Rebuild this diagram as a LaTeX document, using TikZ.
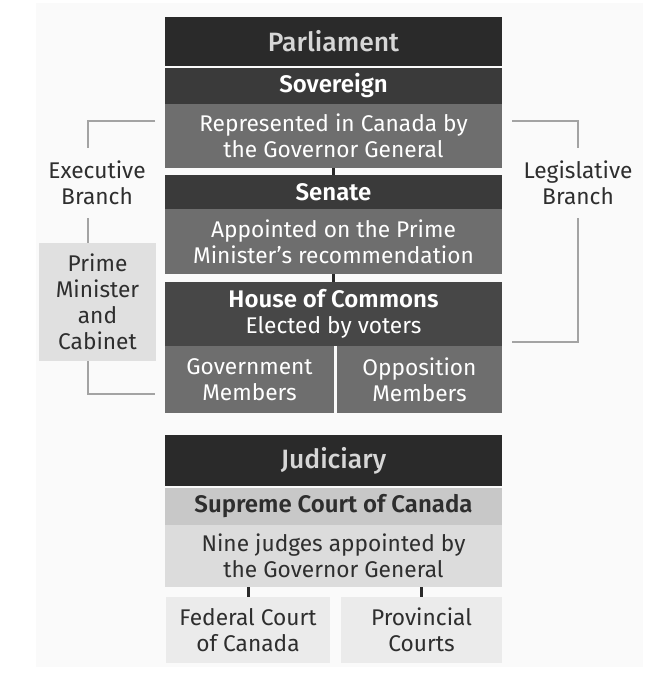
\documentclass[tikz,border=0pt]{standalone}
\usepackage{fontspec}
\setmainfont{Fira Sans}[BoldFont={Fira Sans SemiBold}]
\newfontfamily\headfont{Fira Sans Medium}
\usetikzlibrary{positioning}

\definecolor{bgpanel}{HTML}{FAFAFA}
\definecolor{headdark}{HTML}{2A2A2A}
\definecolor{bandone}{HTML}{3A3A3A}
\definecolor{bandmid}{HTML}{6E6E6E}
\definecolor{housedark}{HTML}{474747}
\definecolor{courtmid}{HTML}{C8C8C8}
\definecolor{courtlight}{HTML}{DCDCDC}
\definecolor{courtpale}{HTML}{EBEBEB}
\definecolor{pmgray}{HTML}{E0E0E0}
\definecolor{bracketgray}{HTML}{A3A3A3}
\definecolor{headtext}{HTML}{D6D6D6}
\definecolor{darktext}{HTML}{2E2E2E}

\begin{document}
\begin{tikzpicture}[x=1pt, y=-1pt,
    box/.style = {anchor=north west, inner sep=0, outer sep=0, align=center,
                  minimum width=337, font=\fontsize{22.7}{26}\selectfont},
    head/.style = {box, fill=headdark, text=headtext, minimum height=49,
                   font=\fontsize{26.5}{30}\headfont},
    title/.style = {box, fill=bandone, text=white, minimum height=36,
                    font=\fontsize{24}{26}\selectfont\bfseries},
    band/.style = {box, fill=bandmid, text=white, minimum height=64},
    house/.style = {box, fill=housedark, text=white, minimum height=64},
    court/.style = {box, text=darktext},
    side/.style = {inner sep=0, outer sep=0, align=center, text=darktext,
                   font=\fontsize{22.7}{26}\selectfont},
    bracket/.style = {draw=bracketgray, line width=1.5},
    link/.style = {draw=headdark, line width=3}]

    % page and panel
    \fill[white] (0,0) rectangle (662,688);
    \useasboundingbox (0,0) rectangle (662,688);
    \fill[bgpanel] (36,3) rectangle (643,667);

    % Parliament stack
    \node[head] (parl) at (165,17) {Parliament};
    \node[title] (sov) at (165,68) {Sovereign};
    \node[band] (repr) at (165,104) {Represented in Canada by\\the Governor General};
    \node[title, minimum height=34] (senate) at (165,175) {Senate};
    \node[band, minimum height=65] (appt) at (165,209) {Appointed on the Prime\\Minister’s recommendation};
    \node[house] (commons) at (165,282) {{\fontsize{24}{26}\selectfont\bfseries House of Commons}\\Elected by voters};
    \node[band, minimum width=169, minimum height=67] (gov) at (165,346) {Government\\Members};
    \node[band, minimum width=165, minimum height=67] (opp) at (337,346) {Opposition\\Members};

    \draw[link] (repr.south) -- (senate.north);
    \draw[link] (appt.south) -- (commons.north);

    % Judiciary stack
    \node[head, minimum height=51] (jud) at (165,435) {Judiciary};
    \node[court, fill=courtmid, minimum height=37,
          font=\fontsize{24}{26}\selectfont\bfseries] (supreme) at (165,488) {Supreme Court of Canada};
    \node[court, fill=courtlight, minimum height=62] (nine) at (165,525) {Nine judges appointed by\\the Governor General};
    \node[court, fill=courtpale, minimum width=164, minimum height=66] (federal) at (166,597) {Federal Court\\of Canada};
    \node[court, fill=courtpale, minimum width=161, minimum height=66] (prov) at (341,597) {Provincial\\Courts};

    \draw[link] (nine.south -| federal.north) -- (federal.north);
    \draw[link] (nine.south -| prov.north) -- (prov.north);

    % Executive branch
    \node[side, minimum height=70] (exec) at (97,183) {Executive\\Branch};
    \node[side, fill=pmgray, minimum width=117, minimum height=118] (pm) at (97.5,302) {Prime\\Minister\\and\\Cabinet};
    \coordinate (exectop) at (155,121);
    \coordinate (execbot) at (155,394);
    \draw[bracket] (exectop) -| ([xshift=-9]exec.north);
    \draw[bracket] ([xshift=-9]exec.south) -- ([xshift=-9]exec.south |- pm.north);
    \draw[bracket] ([xshift=-9.5]pm.south) |- (execbot);

    % Legislative branch
    \node[side, minimum height=70] (legis) at (578,183) {Legislative\\Branch};
    \coordinate (legtop) at (512,121);
    \coordinate (legbot) at (512,342);
    \draw[bracket] (legtop) -| (legis.north);
    \draw[bracket] (legis.south) |- (legbot);
\end{tikzpicture}
\end{document}
